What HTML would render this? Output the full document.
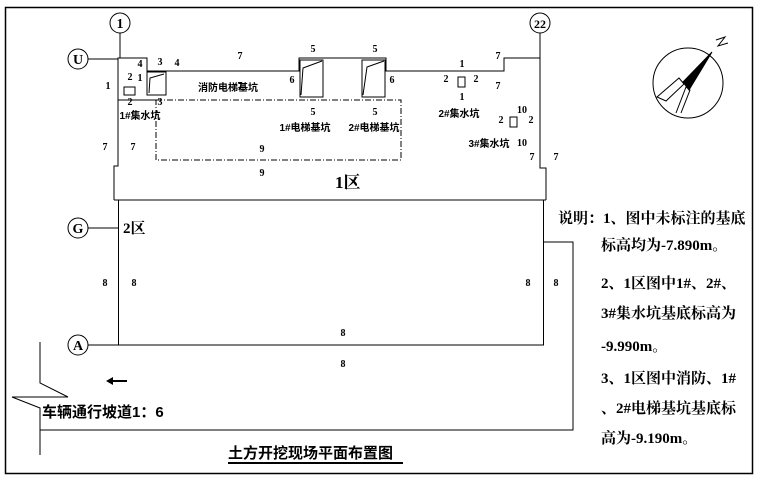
<!DOCTYPE html>
<html><head><meta charset="utf-8"><style>
body{margin:0;background:#fff}
svg{display:block}
text{font-family:"Liberation Serif","Noto Serif CJK SC",serif;fill:#000;font-weight:bold}
.s{font-size:10px}
.c{font-family:"Liberation Sans","Noto Sans CJK SC",sans-serif}
</style></head><body>
<svg width="760" height="481" viewBox="0 0 760 481" xmlns="http://www.w3.org/2000/svg">
<g fill="none" stroke="#000" stroke-width="1">
<rect x="5.5" y="7.5" width="747" height="466" stroke-width="1.5"/>
<circle cx="120" cy="23" r="10"/><line x1="120" y1="33" x2="120" y2="58"/>
<circle cx="78" cy="59" r="10"/><line x1="88" y1="59" x2="118" y2="59"/>
<circle cx="540" cy="23" r="10"/><line x1="540" y1="33" x2="540" y2="58"/>
<circle cx="78" cy="228" r="10"/><line x1="88" y1="228" x2="118" y2="228"/>
<circle cx="78" cy="345" r="10"/><line x1="88" y1="345" x2="118" y2="345"/>
<polyline points="114,200 114,166 118,166 118,58 147,58 147,71 299,71 299,58 386,58 386,71 504,71 504,58 540,58 540,168 546,168 546,200"/>
<line x1="114" y1="200" x2="546" y2="200"/>
<rect x="118.5" y="200" width="425" height="145"/>
<polyline points="543.5,242 573,242 573,430 40,430"/>
<polyline points="40,342 40,383 68,397 12,397 40,408 40,455"/>
<rect x="156" y="100" width="245" height="60" stroke-dasharray="6,2,1,2"/>
<line x1="118" y1="100" x2="156" y2="100"/>
<rect x="147" y="72" width="19" height="23"/>
<polyline points="149,93 150,78 164,74"/>
<rect x="300" y="60" width="23" height="37"/>
<polyline points="301,95 303,68 322,61"/>
<rect x="362" y="60" width="23" height="37"/>
<polyline points="363,95 367,67 384,61"/>
<rect x="124" y="87" width="11" height="8"/>
<rect x="458" y="77" width="7" height="10"/>
<rect x="510" y="117" width="7" height="10"/>
<circle cx="688" cy="83" r="35"/>
<polygon points="657,97 679,78 684,84 666,101"/>
<polyline points="676,113 686,87 690,90 681,113"/>
<polygon points="683,82 712,52 689,90" fill="#000"/>
<polyline points="716,40 725,37 718,46 728,43"/>
<line x1="228" y1="463" x2="403" y2="463" stroke-width="2"/>
<line x1="110" y1="381" x2="127" y2="381" stroke-width="2"/>
</g>
<polygon points="106,381 113,377 113,385" fill="#000"/>
<g font-size="14" text-anchor="middle">
<text x="120" y="28">1</text><text x="78" y="64">U</text>
<text x="540" y="28" font-size="12">22</text>
<text x="78" y="233">G</text><text x="78" y="350">A</text>
</g>
<g class="s" text-anchor="middle">
<text x="108" y="89">1</text><text x="140" y="67">4</text><text x="140" y="81">1</text>
<text x="130" y="80">2</text><text x="130" y="105">2</text><text x="160" y="65">3</text><text x="160" y="105">3</text>
<text x="177" y="66">4</text><text x="240" y="59">7</text><text x="240" y="89">7</text>
<text x="313" y="52">5</text><text x="375" y="52">5</text><text x="292" y="83">6</text><text x="392" y="83">6</text>
<text x="313" y="115">5</text><text x="375" y="115">5</text>
<text x="262" y="152">9</text><text x="262" y="176">9</text>
<text x="105" y="150">7</text><text x="133" y="150">7</text>
<text x="462" y="67">1</text><text x="462" y="100">1</text><text x="446" y="82">2</text><text x="476" y="82">2</text>
<text x="498" y="59">7</text><text x="498" y="89">7</text>
<text x="522" y="113">10</text><text x="501" y="123">2</text><text x="531" y="123">2</text><text x="522" y="146">10</text>
<text x="532" y="160">7</text><text x="556" y="160">7</text>
<text x="105" y="286">8</text><text x="134" y="286">8</text><text x="528" y="286">8</text><text x="556" y="286">8</text>
<text x="343" y="336">8</text><text x="343" y="367">8</text>
<text x="228" y="91" font-size="10" class="c">消防电梯基坑</text>
<text x="140" y="119" class="c">1#集水坑</text>
<text x="305" y="131" class="c">1#电梯基坑</text>
<text x="374" y="131" class="c">2#电梯基坑</text>
<text x="459" y="117" class="c">2#集水坑</text>
<text x="489" y="147" class="c">3#集水坑</text>
</g>
<text x="335" y="188" font-size="17">1区</text>
<text x="123" y="233" font-size="15" font-weight="normal">2区</text>
<text x="42" y="417" font-size="15" class="c">车辆通行坡道1：6</text>
<text x="228" y="458" font-size="15" class="c">土方开挖现场平面布置图</text>
<g font-size="15">
<text x="558" y="223">说明：1、图中未标注的基底</text>
<text x="601" y="250">标高均为-7.890m。</text>
<text x="601" y="288">2、1区图中1#、2#、</text>
<text x="601" y="318">3#集水坑基底标高为</text>
<text x="601" y="351">-9.990m。</text>
<text x="601" y="383">3、1区图中消防、1#</text>
<text x="601" y="413">、2#电梯基坑基底标</text>
<text x="601" y="443">高为-9.190m。</text>
</g>
</svg>
</body></html>
